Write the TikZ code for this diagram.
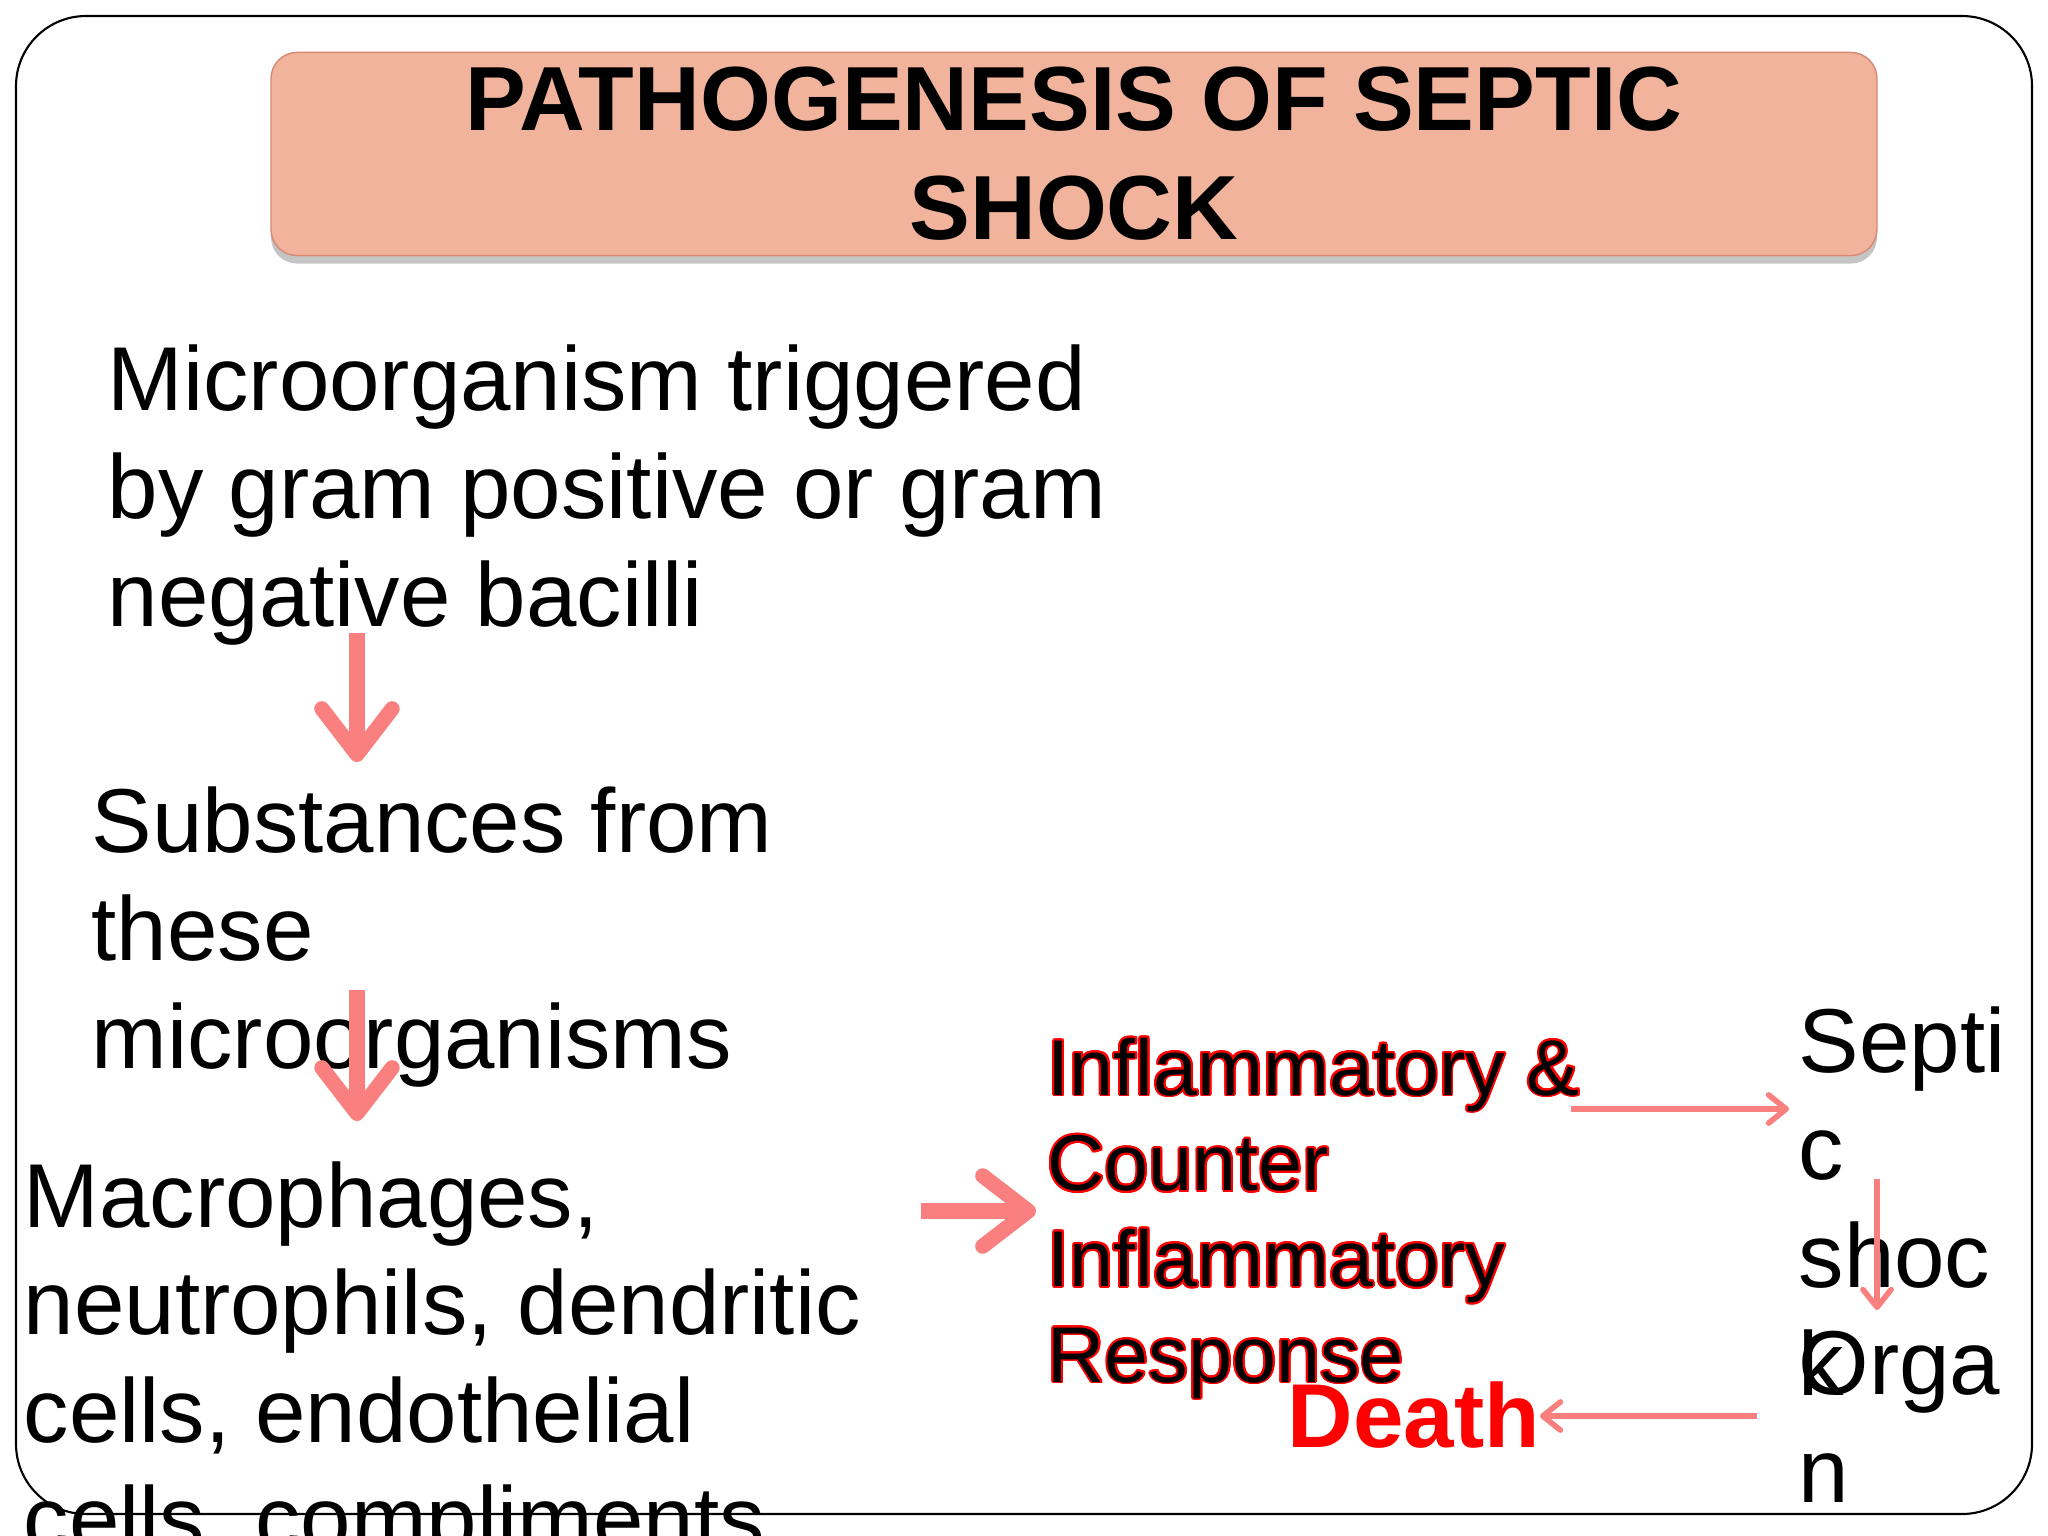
\documentclass[tikz,border=0pt]{standalone}
\usepackage{fontspec}
\setmainfont{Liberation Sans}
\usepackage[copies]{contour}
\usetikzlibrary{arrows.meta,shadows}
\definecolor{peach}{RGB}{241,179,156}
\definecolor{peachline}{RGB}{212,138,116}
\definecolor{salmon}{RGB}{250,128,128}
\contourlength{0.55pt}
\newcommand{\redout}[1]{\contour{red}{#1}}
\tikzset{
	body/.style={anchor=base west, inner sep=0pt, align=left,
		font=\fontsize{25.8}{30.6}\selectfont},
	response/.style={anchor=base west, inner sep=0pt, align=left,
		font=\fontsize{22.5}{27.2}\selectfont},
	titlebox/.style={draw=peachline, fill=peach, rounded corners=0.26cm,
		minimum width=16.05cm, minimum height=2.03cm, align=center,
		font=\fontsize{25.9}{31}\selectfont\bfseries,
		drop shadow={shadow xshift=0pt, shadow yshift=-0.08cm, opacity=0.45}},
	bigarrow/.style={salmon, line width=4.3pt,
		-{Straight Barb[round, length=13pt, width=20pt]}},
	smallarrow/.style={salmon, line width=1.6pt,
		-{Straight Barb[round, length=5pt, width=8pt]}}
}
\begin{document}
\begin{tikzpicture}[x=0.01cm, y=-0.01cm]
	\useasboundingbox (0,0) rectangle (2048,1536);
	\fill[white] (0,0) rectangle (2048,1536);
	\clip (0,0) rectangle (2048,1536);
	\draw[line width=0.6pt, rounded corners=0.7cm] (16,16) rectangle (2032,1514);

	\node[titlebox] (title) at (1074,154) {PATHOGENESIS OF SEPTIC\\SHOCK};

	% text blocks, placed by the baseline of their last line
	\node[body] (micro) at (107,626) {Microorganism triggered\\by gram positive or gram\\negative bacilli};
	\node[body] (subst) at (91,1068) {Substances from\\these\\microorganisms};
	\node[body] (cells) at (23,1550) {Macrophages,\\neutrophils, dendritic\\cells, endothelial\\cells, compliments};
	\node[response] (resp) at (1047,1382) {\redout{Inflammatory \&}\\\redout{Counter}\\\redout{Inflammatory}\\\redout{Response}};
	\node[body, font=\fontsize{25.8}{30.6}\selectfont\bfseries, text=red] (death) at (1287,1447) {Death};
	\node[body] (septic) at (1798,1395) {Septi\\c\\shoc\\k};
	\node[body] (organ) at (1798,1502) {Orga\\n};

	% arrow ends
	\coordinate (a1) at (357,633);
	\coordinate (a2) at (357,762);
	\coordinate (b1) at (357,990);
	\coordinate (b2) at (357,1121);
	\coordinate (c1) at (921,1211);
	\coordinate (c2) at (1036,1211);
	\coordinate (d1) at (1571,1109);
	\coordinate (d2) at (1789,1109);
	\coordinate (e1) at (1877,1179);
	\coordinate (e2) at (1877,1310);
	\coordinate (f1) at (1757,1416);
	\coordinate (f2) at (1540,1416);

	\foreach \s\t in {a1/a2,b1/b2,c1/c2}{
		\draw[bigarrow] (\s) -- (\t);
	}
	\foreach \s\t in {d1/d2,e1/e2,f1/f2}{
		\draw[smallarrow] (\s) -- (\t);
	}
\end{tikzpicture}
\end{document}
